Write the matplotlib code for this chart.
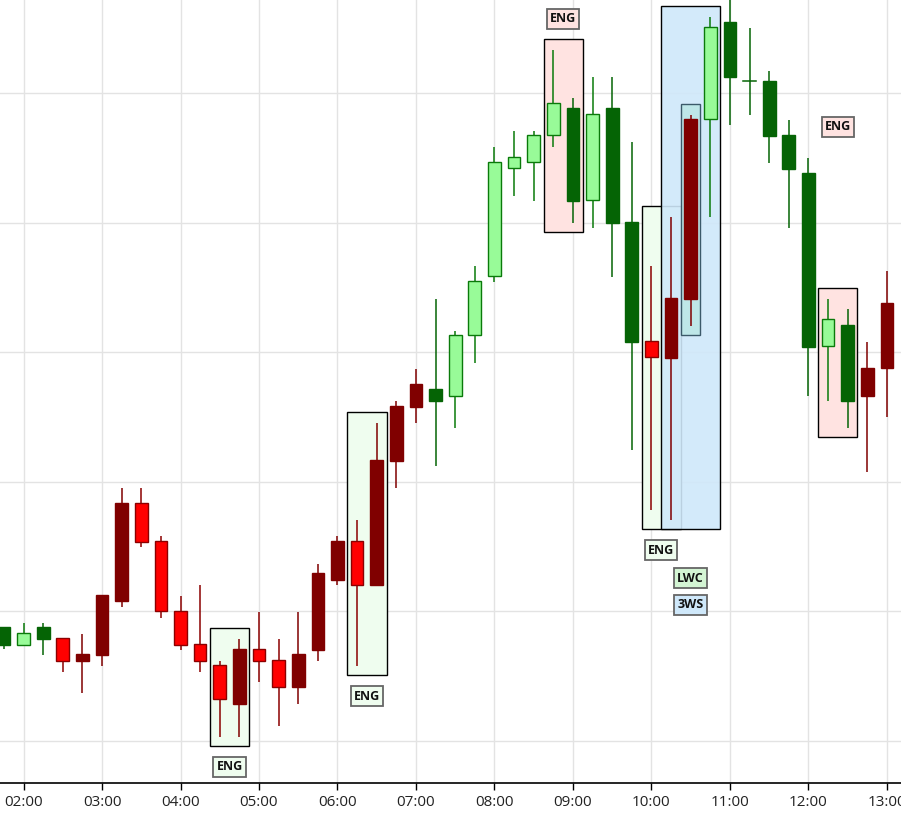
import matplotlib
matplotlib.use("Agg")
import matplotlib.pyplot as plt
from matplotlib.patches import Rectangle
from matplotlib.ticker import MultipleLocator, FixedLocator

# time in hours of each 15-min bar
times = [1.75 + 0.25 * i for i in range(46)]
opens = [96, 96, 114, 103, 80, 86, 140, 238, 200, 130, 97, 76, 37, 92, 81, 54, 91, 161, 200, 156,
         280, 334, 352, 345, 406, 465, 573, 579, 606, 633, 541, 633, 519, 400, 383, 442, 622, 719,
         660, 660, 606, 568, 395, 416, 345, 373]
highs = [114, 118, 118, 103, 107, 146, 253, 253, 205, 145, 156, 80, 102, 129, 102, 129, 177, 205, 221, 318,
         340, 372, 442, 410, 475, 594, 610, 610, 691, 643, 664, 664, 599, 475, 524, 626, 724, 741,
         713, 670, 621, 583, 442, 432, 399, 470]
lows = [92, 96, 86, 69, 48, 75, 134, 194, 123, 91, 69, 4, 4, 59, 15, 37, 80, 156, 75, 156,
        253, 318, 275, 313, 378, 459, 545, 540, 594, 518, 513, 464, 291, 231, 221, 415, 524, 616,
        626, 578, 513, 345, 340, 313, 269, 324]
closes = [114, 108, 102, 80, 87, 146, 238, 199, 130, 96, 80, 42, 92, 80, 54, 87, 168, 200, 156, 281,
          335, 357, 340, 406, 460, 579, 584, 606, 638, 540, 627, 518, 399, 384, 443, 622, 714, 664,
          660, 605, 572, 394, 422, 340, 373, 438]
kinds = ["DG", "LG", "DG", "R", "DR", "DR", "DR", "R", "R", "R", "R", "R", "DR", "R", "R", "DR", "DR", "DR", "R", "DR",
         "DR", "DR", "DG", "LG", "LG", "LG", "LG", "LG", "LG", "DG", "LG", "DG", "DG", "R", "DR", "DR", "LG", "DG",
         "DG", "DG", "DG", "DG", "LG", "DG", "DR", "DR"]

# patterns: label, first bar, last bar, label y
pat_labels = ["ENG", "ENG", "ENG", "ENG", "3WS", "LWC", "ENG"]
pat_start = [11, 18, 28, 33, 34, 35, 42]
pat_end = [12, 19, 29, 34, 36, 35, 43]
pat_label_y = [-26, 45, 722, 191, 136, 163, 614]
pat_kind = ["bull", "bull", "bear", "bull", "3ws", "lwc", "bear"]

xticks = list(range(2, 14))
xtick_labels = [f"{h:02d}:00" for h in xticks]

fill = {"LG": "#98fb98", "DG": "#056405", "R": "#ff0000", "DR": "#800000"}
edge = {"LG": "#0a7a0a", "DG": "#056405", "R": "#8b0000", "DR": "#800000"}
wick = {"LG": "#0a7a0a", "DG": "#056405", "R": "#8b0000", "DR": "#800000"}
rect_fc = {"bull": "#effdef", "bear": "#ffe3e1", "3ws": "#cfe8fa", "lwc": "#b7e6e2"}
rect_ec = {"bull": "black", "bear": "black", "3ws": "black", "lwc": "#3c5a6a"}
label_fc = {"bull": "#effdef", "bear": "#ffe3e1", "3ws": "#cfe8fa", "lwc": "#d4f5d4"}

fig = plt.figure(figsize=(9.01, 8.23), dpi=100)
ax = fig.add_axes([0, 40 / 823, 1, 783 / 823])
ax.set_xlim(1.70, 13.18)
ax.set_ylim(-42, 741)

ax.xaxis.set_major_locator(FixedLocator(xticks))
ax.set_xticklabels(xtick_labels, fontsize=11, color="#222222", family="Open Sans")
ax.yaxis.set_major_locator(MultipleLocator(129.6))
ax.set_yticklabels([])
ax.tick_params(axis="y", length=0)
ax.tick_params(axis="x", length=5, width=1, direction="out", pad=4)
ax.grid(True, color="#e3e3e3", linewidth=1)
ax.set_axisbelow(True)
for s in ["top", "right", "left"]:
    ax.spines[s].set_visible(False)
ax.spines["bottom"].set_linewidth(1.2)

half = 0.125
pad_px_top, pad_px_bot = 11, 9
for lab, s, e, ly, k in zip(pat_labels, pat_start, pat_end, pat_label_y, pat_kind):
    hi = max(highs[s:e + 1]) + pad_px_top
    lo = min(lows[s:e + 1]) - pad_px_bot
    x0 = times[s] - half
    x1 = times[e] + half
    z = {"bull": 1, "bear": 1, "3ws": 1.2, "lwc": 1.4}[k]
    alpha = {"bull": 1, "bear": 1, "3ws": 0.9, "lwc": 0.75}[k]
    ax.add_patch(Rectangle((x0, lo), x1 - x0, hi - lo, facecolor=rect_fc[k], alpha=alpha,
                           edgecolor="none", zorder=z))
    ax.add_patch(Rectangle((x0, lo), x1 - x0, hi - lo, facecolor="none",
                           edgecolor=rect_ec[k], linewidth=1, zorder=z + 0.05))
    ax.text((x0 + x1) / 2, ly, lab, ha="center", va="center", fontsize=9, fontweight="bold",
            family="Open Sans", color="#111111", zorder=5,
            bbox=dict(boxstyle="square,pad=0.25", facecolor=label_fc[k], edgecolor="#666666", linewidth=1.3))

bw = 0.162
for t, o, h, l, c, k in zip(times, opens, highs, lows, closes, kinds):
    ax.plot([t, t], [l, h], color=wick[k], linewidth=1.1, zorder=3, solid_capstyle="butt")
    bot = min(o, c)
    ht = abs(c - o)
    if ht < 1:
        ax.plot([t - bw / 2, t + bw / 2], [o, o], color=wick[k], linewidth=1.1, zorder=3.5)
    else:
        ax.add_patch(Rectangle((t - bw / 2, bot), bw, ht, facecolor=fill[k], edgecolor=edge[k],
                               linewidth=1, zorder=4))

fig.savefig("out.png", dpi=100)
